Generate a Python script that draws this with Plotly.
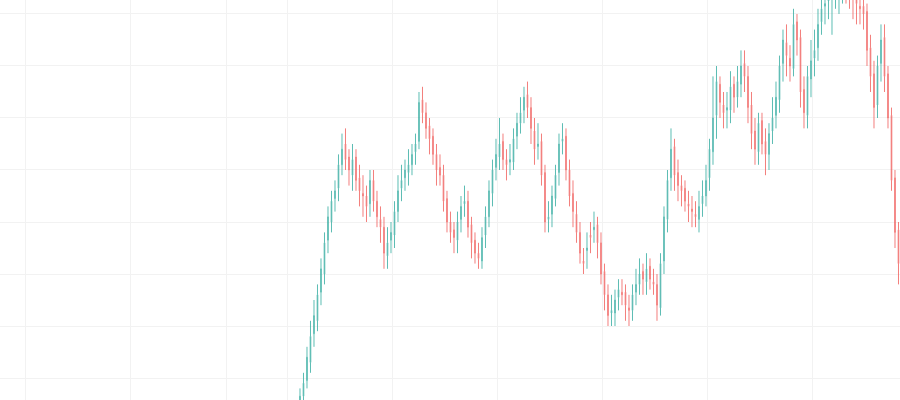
import plotly.graph_objects as go

# OHLC series, one bar per session (index based x axis)
opens = [
    95, 96.5, 99.5, 103, 108.5, 111, 116.5, 120, 126.5, 130,
    134.5, 136.5, 141, 145, 142.5, 139, 142.5, 138.5, 135.5, 135,
    133.5, 138, 134, 130.5, 129, 123.5, 126.5, 127.5, 132, 136.5,
    138.5, 139.5, 141, 143.5, 145.5, 153.5, 151, 148.5, 146.5, 143,
    140.5, 139, 134.5, 130, 128.5, 126.5, 130.5, 133.5, 134, 129.5,
    126.5, 124, 122.5, 127.5, 131, 135.5, 140.5, 142.5, 145.5, 142,
    141.5, 141.5, 146.5, 149, 151.5, 154.5, 152, 147.5, 144.5, 145.5,
    139.5, 130.5, 131.5, 134.5, 139.5, 145.5, 146.5, 140, 135.5, 131.5,
    128, 122.5, 124.5, 127.5, 128.5, 129.5, 126, 120.5, 116, 112.5,
    112.5, 115.5, 116.5, 116.5, 113.5, 113, 116.5, 118, 120.5, 118.5,
    121.5, 118.5, 118, 113.5, 122.5, 130.5, 138.5, 144.5, 139.5, 137,
    136.5, 133.5, 132.5, 131.5, 130.5, 133.5, 135, 138.5, 143.5, 150.5,
    156.5, 152.5, 151.5, 151.5, 156.5, 154, 156.5, 160.5, 158, 152.5,
    147.5, 143.5, 149.5, 145.5, 143, 147.5, 150.5, 153.5, 160.5, 164.5,
    161.5, 159.5, 168.5, 165.5, 155.5, 150.5, 157.5, 161.5, 163.5, 168.5,
    171.5, 172.5, 173.5, 174.5, 174.5, 175.5, 175.5, 174.5, 173.5, 173,
    171.5, 171.5, 170.5, 163.5, 158.5, 152.5, 160.5, 165.5, 158.5, 150.5,
    138.5, 128.5,
]
highs = [
    98, 101, 106, 111, 115, 118, 123, 128, 133, 136,
    138, 143, 147, 148, 144, 145, 144, 141, 139, 137,
    140, 140, 136, 133, 131, 129, 130, 134, 139, 141,
    142, 144, 145, 147, 155, 156, 153, 150, 148, 145,
    143, 141, 136, 132, 130, 132, 135, 137, 136, 131,
    128, 126, 129, 133, 138, 142, 146, 150, 147, 144,
    145, 148, 151, 154, 156, 157, 154, 150, 149, 147,
    141, 134, 137, 141, 147, 149, 148, 142, 138, 134,
    130, 125, 128, 130, 132, 131, 128, 122, 118, 116,
    117, 119, 119, 118, 116, 118, 121, 123, 122, 124,
    123, 121, 120, 124, 133, 140, 148, 146, 142, 139,
    138, 136, 135, 134, 136, 138, 141, 146, 158, 160,
    158, 155, 155, 159, 158, 160, 163, 163, 160, 155,
    150, 151, 151, 148, 149, 154, 157, 162, 167, 168,
    164, 171, 170, 167, 158, 160, 165, 167, 171, 174,
    175, 176, 177, 178, 178, 178, 178, 177, 176, 175,
    174, 174, 172, 166, 161, 162, 168, 168, 160, 152,
    140, 130,
]
lows = [
    93, 95, 98, 101, 106, 109, 114, 118, 124, 128,
    132, 134, 139, 140, 137, 136, 136, 133, 131, 130,
    131, 132, 129, 126, 121, 121, 124, 125, 130, 134,
    136, 137, 139, 141, 144, 149, 146, 143, 141, 137,
    137, 132, 128, 126, 124, 124, 128, 131, 127, 123,
    122, 121, 121, 125, 129, 133, 138, 140, 140, 138,
    139, 140, 144, 147, 149, 150, 145, 141, 142, 137,
    128, 128, 129, 133, 137, 143, 138, 133, 129, 126,
    122, 120, 121, 124, 126, 123, 118, 113, 110, 110,
    110, 113, 114, 111, 110, 111, 114, 116, 116, 116,
    117, 116, 111, 112, 120, 128, 136, 136, 134, 133,
    132, 130, 129, 129, 128, 131, 133, 136, 141, 146,
    150, 148, 148, 149, 151, 152, 154, 155, 149, 144,
    141, 141, 143, 139, 140, 145, 148, 151, 157, 158,
    157, 158, 162, 152, 148, 148, 154, 158, 161, 166,
    168, 169, 166, 171, 170, 172, 172, 171, 169, 168,
    168, 167, 160, 155, 148, 150, 157, 155, 148, 136,
    125, 118,
]
closes = [
    96.5, 99, 104, 108, 112, 116, 121, 126, 131, 134,
    136, 141, 144, 142, 140, 142, 138, 136, 135, 133,
    138, 134, 131, 129, 124, 126, 128, 132, 136, 138,
    140, 141, 143, 145, 153, 151, 148, 146, 143, 140,
    139, 134, 130, 128, 127, 130, 133, 134, 129, 126,
    124, 123, 127, 131, 136, 140, 143, 145, 142, 141,
    142, 146, 149, 151, 154, 152, 148, 144, 145, 139,
    130, 131, 135, 139, 145, 146, 140, 135, 132, 128,
    124, 122, 125, 127, 129, 126, 120, 116, 112, 113,
    115, 117, 116, 114, 113, 116, 118, 120, 119, 121,
    119, 118, 114, 122, 131, 138, 144, 139, 137, 136,
    134, 133, 132, 131, 133, 135, 138, 144, 150, 157,
    153, 151, 152, 156, 154, 157, 160, 158, 152, 147,
    144, 149, 145, 143, 147, 150, 154, 160, 165, 162,
    160, 168, 165, 155, 151, 158, 161, 163, 168, 171,
    172, 173, 174, 175, 175, 176, 175, 174, 173, 172,
    171, 170, 163, 158, 152, 160, 165, 158, 150, 138,
    128, 122,
]
x = list(range(len(closes)))

# grid positions (the visible window is panned, data begins right of centre)
grid_x = [-78.29, -48.29, -20.86, -3.43, 26.57, 56.57, 86.57, 116.57, 146.57]
grid_y = [100, 110, 120, 130, 140, 150, 160, 170]

fig = go.Figure(go.Candlestick(
    x=x, open=opens, high=highs, low=lows, close=closes,
    increasing=dict(line=dict(color='#26a69a', width=1), fillcolor='#26a69a'),
    decreasing=dict(line=dict(color='#ef5350', width=1), fillcolor='#ef5350'),
    whiskerwidth=0, opacity=0.75, hoverinfo='skip',
))

fig.update_layout(
    width=900, height=400,
    margin=dict(l=0, r=0, t=0, b=0),
    paper_bgcolor='white', plot_bgcolor='white',
    showlegend=False,
    boxgap=0.75,
    xaxis=dict(range=[-85.71, 171.43], tickvals=grid_x, showticklabels=False,
               showgrid=True, gridcolor='#f2f2f2', zeroline=False,
               rangeslider=dict(visible=False), showline=False),
    yaxis=dict(range=[95.77, 172.69], tickvals=grid_y, showticklabels=False,
               showgrid=True, gridcolor='#f2f2f2', zeroline=False, showline=False),
)

fig.write_html("out.html", config={'displayModeBar': False},
               post_script="document.body.style.margin='0';")
